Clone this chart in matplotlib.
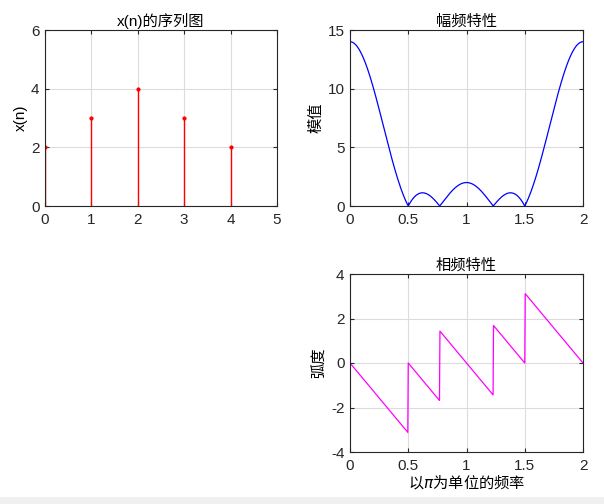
import numpy as np
import matplotlib.pyplot as plt
from matplotlib.patches import Rectangle

plt.rcParams['font.family'] = ['Liberation Sans', 'Noto Sans CJK SC', 'DejaVu Sans']
plt.rcParams['axes.unicode_minus'] = False

# sequence x(n)
n = [0, 1, 2, 3, 4]
x = [2, 3, 4, 3, 2]

# DTFT of x(n) on 0..2*pi
k = np.arange(0, 501)
w = k * 2 * np.pi / 500
X = np.exp(-1j * np.outer(w, n)) @ np.array(x, dtype=float)
X[np.abs(X) < 1e-9] = 0  # exact zeros -> angle 0
mag = np.abs(X)
pha = np.angle(X)

fig = plt.figure(figsize=(6.04, 5.04), dpi=100)
W, H = 604, 504


def make_ax(l, t, r, b):
    ax = fig.add_axes([l / W, 1 - b / H, (r - l) / W, (b - t) / H])
    ax.tick_params(direction='in', top=True, right=True, labelsize=11,
                   length=3, colors='#262626')
    ax.tick_params(axis='x', pad=5)
    ax.tick_params(axis='y', pad=4)
    ax.grid(True, color='#dcdcdc', linewidth=0.8)
    ax.set_axisbelow(True)
    for s in ax.spines.values():
        s.set_color('#262626')
    return ax


# x(n) stem plot
ax1 = make_ax(45, 30, 277, 206)
ml, sl, bl = ax1.stem(n, x, linefmt='r-', markerfmt='r.', basefmt=' ')
plt.setp(ml, markersize=4)
plt.setp(sl, linewidth=1)
ax1.set_xlim(0, 5)
ax1.set_ylim(0, 6)
ax1.set_xticks(range(0, 6))
ax1.set_yticks([0, 2, 4, 6])
ax1.set_ylabel('x(n)', fontsize=11, labelpad=2)
ax1.set_title('x(n)的序列图', fontsize=11, pad=3)

# magnitude
ax2 = make_ax(350, 30, 583, 206)
ax2.plot(w / np.pi, mag, color='b', linewidth=0.9)
ax2.set_xlim(0, 2)
ax2.set_ylim(0, 15)
ax2.set_xticks([0, 0.5, 1, 1.5, 2])
ax2.set_xticklabels(['0', '0.5', '1', '1.5', '2'])
ax2.set_yticks([0, 5, 10, 15])
ax2.set_ylabel('模值', fontsize=11, labelpad=3)
ax2.set_title('幅频特性', fontsize=11, pad=3)

# phase
ax3 = make_ax(350, 274, 583, 452)
ax3.plot(w / np.pi, pha, color='magenta', linewidth=0.9)
ax3.set_xlim(0, 2)
ax3.set_ylim(-4, 4)
ax3.set_xticks([0, 0.5, 1, 1.5, 2])
ax3.set_xticklabels(['0', '0.5', '1', '1.5', '2'])
ax3.set_yticks([-4, -2, 0, 2, 4])
ax3.set_ylabel('弧度', fontsize=11, labelpad=3)
ax3.set_xlabel(r'以$\pi$为单位的频率', fontsize=11, labelpad=1,
               family=['Noto Sans CJK SC', 'DejaVu Sans'])
ax3.set_title('相频特性', fontsize=11, pad=3)

# grey strip at the bottom of the window
fig.patches.append(Rectangle((0, 0), 1, 7 / H, transform=fig.transFigure,
                             facecolor='#f0f0f0', edgecolor='none'))

fig.savefig('out.png', dpi=100)
